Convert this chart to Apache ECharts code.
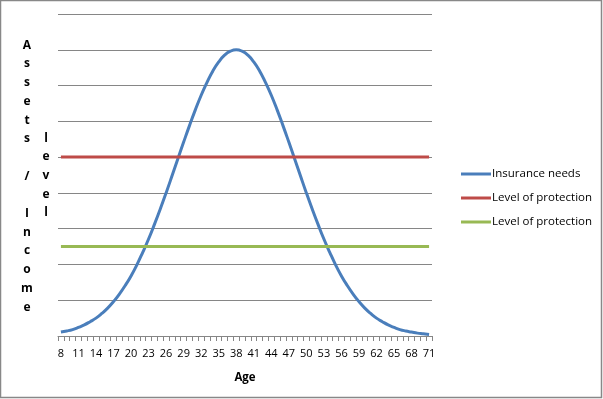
<!DOCTYPE html>
<html>
<head>
<meta charset="utf-8">
<script src="https://cdn.jsdelivr.net/npm/echarts@6/dist/echarts.min.js"></script>
<style>
  html, body { margin: 0; padding: 0; background: #fff; }
  #chart { width: 603px; height: 399px; }
</style>
</head>
<body>
<div id="chart"></div>
<script>
// ages 8..71
const ages = [8, 9, 10, 11, 12, 13, 14, 15, 16, 17, 18, 19, 20, 21, 22, 23, 24, 25, 26, 27,
  28, 29, 30, 31, 32, 33, 34, 35, 36, 37, 38, 39, 40, 41, 42, 43, 44, 45, 46, 47,
  48, 49, 50, 51, 52, 53, 54, 55, 56, 57, 58, 59, 60, 61, 62, 63, 64, 65, 66, 67,
  68, 69, 70, 71];

// insurance needs
const insuranceNeeds = [0.11, 0.14, 0.18, 0.24, 0.31, 0.40, 0.50, 0.63, 0.78, 0.96,
  1.17, 1.41, 1.68, 1.99, 2.34, 2.71, 3.12, 3.55, 4.00, 4.47,
  4.95, 5.42, 5.88, 6.32, 6.73, 7.09, 7.41, 7.66, 7.85, 7.96,
  8.00,
  7.96, 7.85, 7.66, 7.41, 7.09, 6.73, 6.32, 5.88, 5.42, 4.95,
  4.47, 4.00, 3.55, 3.12, 2.71, 2.34, 1.99, 1.68, 1.41, 1.17,
  0.96, 0.78, 0.63, 0.50, 0.40, 0.31, 0.24, 0.18, 0.14, 0.11,
  0.08, 0.06, 0.04];

// two protection levels (flat)
const protectionHigh = ages.map(() => 5);
const protectionLow = ages.map(() => 2.5);

const chart = echarts.init(document.getElementById('chart'));

const option = {
  animation: false,
  backgroundColor: '#fff',
  textStyle: { fontFamily: 'Open Sans, sans-serif' },
  grid: { left: 58, right: 171, top: 14, bottom: 63 },
  legend: {
    orient: 'vertical',
    left: 456,
    top: 163,
    itemWidth: 30,
    itemHeight: 3,
    itemGap: 12,
    icon: 'rect',
    textStyle: { fontSize: 11.5, color: '#000', padding: [0, 0, 0, -4] },
    data: ['Insurance needs', 'Level of protection', 'Level of protection ']
  },
  xAxis: {
    type: 'category',
    data: ages,
    boundaryGap: true,
    name: 'Age',
    nameLocation: 'middle',
    nameGap: 36,
    nameTextStyle: { fontSize: 11.5, fontWeight: 'bold', color: '#000' },
    axisLine: { lineStyle: { color: '#868686', width: 1 } },
    axisTick: { show: true, interval: 0, length: 5, lineStyle: { color: '#868686' } },
    axisLabel: { interval: 2, fontSize: 11, color: '#000', margin: 12 }
  },
  yAxis: {
    type: 'value',
    min: 0,
    max: 9,
    interval: 1,
    axisLine: { show: false },
    axisTick: { show: false },
    axisLabel: { show: false },
    splitLine: { lineStyle: { color: '#868686', width: 1 } }
  },
  graphic: [
    {
      type: 'rect',
      shape: { x: 0.5, y: 0.5, width: 601, height: 397 },
      style: { fill: 'none', stroke: '#888', lineWidth: 1.5 },
      silent: true
    },
    {
      type: 'text',
      x: 27,
      y: 36,
      style: {
        text: 'A\ns\ns\ne\nt\ns\n \n/\n \nI\nn\nc\no\nm\ne',
        lineHeight: 18.7,
        align: 'center',
        fill: '#000',
        font: 'bold 12px Open Sans, sans-serif'
      }
    },
    {
      type: 'text',
      x: 46,
      y: 129,
      style: {
        text: 'l\ne\nv\ne\nl',
        lineHeight: 18.6,
        align: 'center',
        fill: '#000',
        font: 'bold 12px Open Sans, sans-serif'
      }
    }
  ],
  series: [
    {
      name: 'Insurance needs',
      type: 'line',
      data: insuranceNeeds,
      smooth: true,
      showSymbol: false,
      lineStyle: { color: '#4a7ebb', width: 3 },
      itemStyle: { color: '#4a7ebb' }
    },
    {
      name: 'Level of protection',
      type: 'line',
      data: protectionHigh,
      showSymbol: false,
      lineStyle: { color: '#be4b48', width: 3 },
      itemStyle: { color: '#be4b48' }
    },
    {
      name: 'Level of protection ',
      type: 'line',
      data: protectionLow,
      showSymbol: false,
      lineStyle: { color: '#98b954', width: 3 },
      itemStyle: { color: '#98b954' }
    }
  ]
};

chart.setOption(option);
</script>
</body>
</html>
